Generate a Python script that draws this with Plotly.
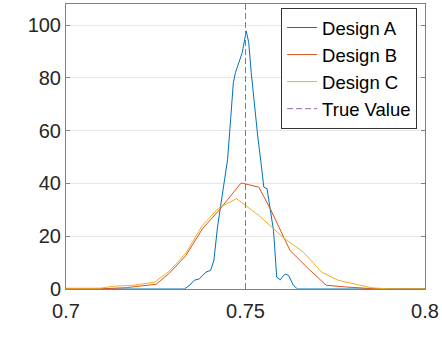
import plotly.graph_objects as go

# Design A (blue)
xa = [0.700, 0.733, 0.7345, 0.7357, 0.7371, 0.739, 0.7403, 0.7412, 0.7422, 0.7436, 0.745,
      0.7459, 0.7466, 0.7472, 0.748, 0.7491, 0.7502, 0.7509, 0.7516, 0.7523, 0.7534, 0.7543,
      0.7551, 0.756, 0.7569, 0.7578, 0.7587, 0.7597, 0.7605, 0.7611, 0.762, 0.7633, 0.7645, 0.800]
ya = [0, 0, 1.5, 3.3, 3.8, 6.4, 7.1, 10.9, 23.5, 36, 49,
      65, 78, 82, 85.5, 89.6, 97.8, 93.4, 82, 72, 58, 48,
      38.6, 38, 30, 22.2, 4.5, 3.5, 5.0, 5.6, 5.2, 1.4, 0, 0]

# Design B (red)
xb = [0.700, 0.710, 0.7168, 0.7251, 0.7288, 0.7334, 0.738, 0.7426, 0.7488, 0.7537,
      0.7569, 0.7624, 0.7675, 0.7725, 0.7776, 0.785, 0.790, 0.800]
yb = [0.1, 0.1, 0.5, 1.8, 6.0, 12.7, 22.8, 29.8, 40.2, 38.6,
      30.4, 14.6, 7.7, 1.4, 0.8, 0.15, 0, 0]

# Design C (yellow)
xc = [0.700, 0.7095, 0.7136, 0.7187, 0.7247, 0.7288, 0.7334, 0.738, 0.7426, 0.7475,
      0.7537, 0.7606, 0.7661, 0.7712, 0.7758, 0.7804, 0.785, 0.790, 0.800]
yc = [0.3, 0.3, 1.1, 1.4, 2.6, 6.8, 13.6, 24.1, 30.8, 34.2,
      27.9, 19.4, 14.0, 6.4, 3.3, 2.0, 0.5, 0, 0]

true_value = 0.75
y_max = 108
x_ticks = [0.7, 0.75, 0.8]
x_ticklabels = ["0.7", "0.75", "0.8"]
y_ticks = [0, 20, 40, 60, 80, 100]

fig = go.Figure()
fig.add_trace(go.Scatter(x=xa, y=ya, mode="lines", name="Design A",
                         line=dict(color="#0072BD", width=1)))
fig.add_trace(go.Scatter(x=xb, y=yb, mode="lines", name="Design B",
                         line=dict(color="#D95319", width=1)))
fig.add_trace(go.Scatter(x=xc, y=yc, mode="lines", name="Design C",
                         line=dict(color="#EDB120", width=1)))
fig.add_trace(go.Scatter(x=[true_value, true_value], y=[0, y_max], mode="lines",
                         name="True Value",
                         line=dict(color="#9A66A8", width=1, dash="6px,3px")))

axis_common = dict(showline=True, linecolor="#808080", linewidth=1, mirror="ticks",
                   ticks="inside", ticklen=4, tickcolor="#808080",
                   tickfont=dict(family="Liberation Sans", size=20, color="#262626"),
                   zeroline=False)

fig.update_xaxes(range=[0.7, 0.8], tickvals=x_ticks, ticktext=x_ticklabels,
                 showgrid=False, ticklabelstandoff=4, **axis_common)
fig.update_yaxes(range=[0, y_max], tickvals=y_ticks, showgrid=True,
                 gridcolor="#e6e6e6", gridwidth=1, **axis_common)

fig.update_layout(
    width=442, height=354,
    margin=dict(l=66, r=14, t=3, b=65, pad=0),
    paper_bgcolor="white", plot_bgcolor="white",
    font=dict(family="Liberation Sans", size=20, color="#000000"),
    legend=dict(x=0.978, y=0.986, xanchor="right", yanchor="top",
                bgcolor="white", bordercolor="#333333", borderwidth=1,
                font=dict(family="Liberation Sans", size=18.5, color="#000000"),
                tracegroupgap=0),
    showlegend=True,
)

fig.add_annotation(text="<b>Frequency density function estimates under different designs</b>",
                   xref="paper", yref="paper", x=-66/362, y=(288.7-350)/285.7,
                   xanchor="left", yanchor="top", showarrow=False,
                   font=dict(family="Liberation Serif", size=15, color="#000000"))

fig.write_html("out.html")
